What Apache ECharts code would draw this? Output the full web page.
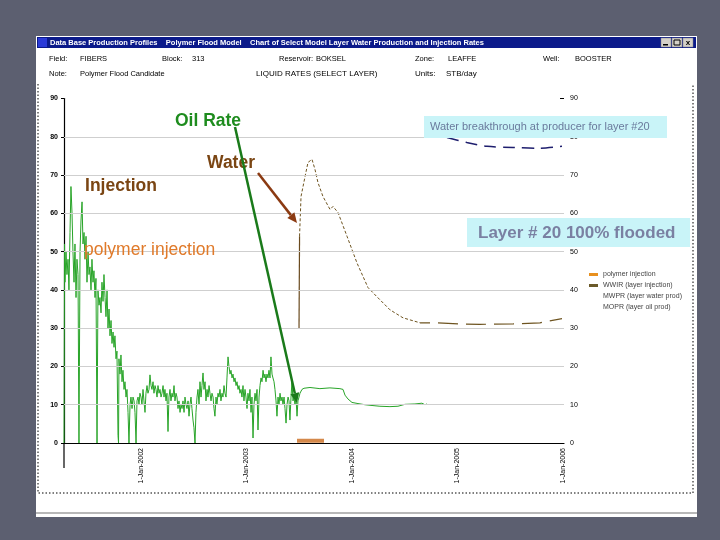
<!DOCTYPE html>
<html><head><meta charset="utf-8">
<script src="https://cdn.jsdelivr.net/npm/echarts@6/dist/echarts.min.js"></script>
<style>html,body{margin:0;padding:0;background:#5c5f70;}#c{width:720px;height:540px;}</style>
</head><body><div id="c"></div>
<script>
// ---- data (decimal years / STB/day) ----
const oilDates = [2001.270,2001.275,2001.279,2001.289,2001.298,2001.308,2001.317,2001.327,2001.336,2001.346,2001.355,2001.365,2001.374,2001.384,2001.393,2001.403,2001.412,2001.422,2001.431,2001.441,2001.450,2001.460,2001.469,2001.479,2001.488,2001.498,2001.507,2001.516,2001.526,2001.535,2001.545,2001.554,2001.564,2001.573,2001.583,2001.592,2001.602,2001.611,2001.621,2001.630,2001.640,2001.649,2001.659,2001.668,2001.678,2001.687,2001.697,2001.706,2001.716,2001.725,2001.735,2001.744,2001.753,2001.763,2001.772,2001.782,2001.787,2001.791,2001.801,2001.810,2001.820,2001.829,2001.839,2001.848,2001.858,2001.867,2001.877,2001.886,2001.896,2001.905,2001.915,2001.924,2001.934,2001.943,2001.953,2001.962,2001.972,2001.981,2001.990,2002.000,2002.009,2002.019,2002.028,2002.038,2002.047,2002.057,2002.066,2002.076,2002.085,2002.095,2002.104,2002.114,2002.123,2002.133,2002.142,2002.152,2002.161,2002.171,2002.180,2002.190,2002.199,2002.209,2002.218,2002.227,2002.237,2002.246,2002.256,2002.265,2002.275,2002.284,2002.294,2002.303,2002.313,2002.322,2002.332,2002.341,2002.351,2002.360,2002.370,2002.379,2002.389,2002.398,2002.408,2002.417,2002.427,2002.436,2002.446,2002.455,2002.464,2002.474,2002.483,2002.493,2002.502,2002.512,2002.521,2002.531,2002.540,2002.550,2002.559,2002.569,2002.578,2002.588,2002.597,2002.607,2002.616,2002.626,2002.635,2002.645,2002.654,2002.664,2002.673,2002.683,2002.692,2002.701,2002.711,2002.720,2002.730,2002.739,2002.749,2002.758,2002.768,2002.777,2002.787,2002.796,2002.806,2002.815,2002.825,2002.834,2002.844,2002.853,2002.863,2002.872,2002.882,2002.891,2002.901,2002.910,2002.920,2002.929,2002.938,2002.948,2002.957,2002.967,2002.976,2002.986,2002.995,2003.005,2003.014,2003.024,2003.033,2003.043,2003.052,2003.062,2003.071,2003.081,2003.090,2003.100,2003.109,2003.119,2003.128,2003.138,2003.147,2003.157,2003.166,2003.175,2003.185,2003.194,2003.204,2003.213,2003.223,2003.232,2003.242,2003.251,2003.261,2003.270,2003.280,2003.289,2003.299,2003.308,2003.318,2003.327,2003.337,2003.346,2003.356,2003.365,2003.375,2003.384,2003.394,2003.403,2003.412,2003.422,2003.431,2003.441,2003.450,2003.460,2003.469,2003.479,2003.488,2003.498,2003.507,2003.526,2003.545,2003.602,2003.696,2003.791,2003.886,2003.915,2003.934,2003.962,2004.000,2004.057,2004.123,2004.190,2004.265,2004.360,2004.436,2004.502,2004.597,2004.663,2004.692,2004.711];
const oilRates = [0,52,42,50,44,48,40,55,67,60,50,42,52,38,48,44,0,50,58,63,52,55,48,54,42,50,44,46,40,48,42,45,38,43,0,40,36,38,34,42,37,44,38,33,40,30,35,28,32,26,29,25,28,22,24,2,0,22,18,23,16,19,14,16,12,14,8,0,10,12,9,12,11,8,0,11,12,10,13,12,10,14,11,8,13,15,13,14,17.8,15,14,16,13,15,14,12,15,13,14,12,13,15,12,14,11,13,3,12,14,11,13,12,15,11,13,12,9,11,8,10,9,11,8,12,10,9,11,7,10,12,9,6,4,0,8,12,14,10,16,12,15,18.3,14,16,11,14,12,15,13,11,13,12,9,7,12,10,13,12,14,11,13,12,15,13,12,17,22.5,20,18,19,17,18,16,17,15,16,14,15,13,14,12,15,11,14,12,9,13,11,14,8,12,1.3,10,13,11,14,3.4,12,15,17,16,19,17,18,16,18,17,19,17,22.5,18,17,16,14,11,7,12,10,13,11,12,10,12,9,5.2,10,12,11,6,12,16,11,12,10,12,7,11,12,13,14,14.3,14.5,14.2,14.4,14.2,14,12.5,11.5,10.6,10.3,10,9.8,9.6,9.5,9.6,10.1,10.2,10.4,10.0,10.2];
const waterDates = [2003.498,2003.503,2003.517,2003.555,2003.583,2003.621,2003.649,2003.678,2003.725,2003.792,2003.820,2003.868,2003.953,2004.048,2004.152,2004.237,2004.360,2004.484,2004.645,2004.787,2005.024,2005.214,2005.527,2005.782,2005.991];
const waterRates = [30,54,64.4,69.6,73.3,74.1,71.5,68,64.4,61,61.8,60.2,54,47,40.6,38.2,34.8,32.7,31.4,31.4,31.1,31,31.1,31.4,32.5];
const prodDates = [2004.901,2005.090,2005.280,2005.527,2005.782,2005.991];
const prodRates = [79.8,78.5,77.5,77.2,77.0,77.5];
const polymerDates = [2003.479,2003.735];
const polymerRates = [0.6,0.6];
const yearTicks = [2002,2003,2004,2005,2006];
const gridValues = [10,20,30,40,50,60,70,80];
const seriesNames = ['polymer injection','WWIR (layer injection)','MWPR (layer water prod)','MOPR (layer oil prod)'];

const zip = (a,b) => a.map((d,i)=>[d,b[i]]);
const FF = '"Liberation Sans", Arial, sans-serif';

const chart = echarts.init(document.getElementById('c'), null, {renderer:'canvas'});

function txt(x,y,text,font,fill,align,z){
  return {type:'text', x:x, y:y, z:z||50, silent:true,
    style:{text:text, font:font, fill:fill||'#000', align:align||'left', verticalAlign:'middle'}};
}
function arrow(x1,y1,x2,y2,color,w,len,half){
  const dx=x2-x1, dy=y2-y1, L=Math.hypot(dx,dy), ux=dx/L, uy=dy/L;
  const bx=x2-ux*len, by=y2-uy*len;
  return [
    {type:'line', z:60, silent:true, shape:{x1:x1,y1:y1,x2:bx,y2:by}, style:{stroke:color,lineWidth:w}},
    {type:'polygon', z:60, silent:true, shape:{points:[[x2,y2],[bx-uy*half,by+ux*half],[bx+uy*half,by-ux*half]]}, style:{fill:color}}
  ];
}
const hdr = '7.5px ' + FF;
const graphics = [
  {type:'rect', z:-100, silent:true, shape:{x:36,y:36,width:661,height:481}, style:{fill:'#ffffff'}},
  {type:'rect', z:-99, silent:true, shape:{x:36,y:512,width:661,height:2}, style:{fill:'#b8b8b8'}},
  {type:'rect', z:-99, silent:true, shape:{x:37,y:37,width:659,height:11}, style:{fill:'#0b1a8a'}},
  {type:'rect', z:-98, silent:true, shape:{x:38,y:38,width:9,height:9}, style:{fill:'#2a3ad8'}},
  txt(50,42.8,'Data Base Production Profiles    Polymer Flood Model    Chart of Select Model Layer Water Production and Injection Rates','bold 7.5px '+FF,'#ffffff'),
  {type:'rect', z:-98, silent:true, shape:{x:661,y:38,width:10,height:9}, style:{fill:'#d4d0c8',stroke:'#808080',lineWidth:0.5}},
  {type:'rect', z:-98, silent:true, shape:{x:672,y:38,width:10,height:9}, style:{fill:'#d4d0c8',stroke:'#808080',lineWidth:0.5}},
  {type:'rect', z:-98, silent:true, shape:{x:683,y:38,width:10,height:9}, style:{fill:'#d4d0c8',stroke:'#808080',lineWidth:0.5}},
  {type:'rect', z:-97, silent:true, shape:{x:663,y:44,width:5,height:1.5}, style:{fill:'#000'}},
  {type:'rect', z:-97, silent:true, shape:{x:674,y:40,width:6,height:5}, style:{fill:'none',stroke:'#000',lineWidth:1}},
  txt(688,42.8,'x','bold 8px '+FF,'#000','center'),
  txt(49,59,'Field:',hdr), txt(80,59,'FIBERS',hdr),
  txt(162,59,'Block:',hdr), txt(192,59,'313',hdr),
  txt(279,59,'Reservoir:',hdr), txt(316,59,'BOKSEL',hdr),
  txt(415,59,'Zone:',hdr), txt(448,59,'LEAFFE',hdr),
  txt(543,59,'Well:',hdr), txt(575,59,'BOOSTER',hdr),
  txt(49,74,'Note:',hdr), txt(80,74,'Polymer Flood Candidate',hdr),
  txt(256,74,'LIQUID RATES (SELECT LAYER)','8px '+FF),
  txt(415,74,'Units:','8px '+FF), txt(446,74,'STB/day','8px '+FF),
  {type:'polyline', z:-90, silent:true, shape:{points:[[38,84],[38,493],[693,493],[693,84]]}, style:{stroke:'#000',lineWidth:1,lineDash:[1.5,2],fill:'none'}},
  {type:'line', z:5, silent:true, shape:{x1:64,y1:443,x2:64,y2:468}, style:{stroke:'#000',lineWidth:1.2}},
  // annotations
  txt(208,121,'Oil Rate','bold 17.5px '+FF,'#1e8c1e','center'),
  txt(231,163,'Water','bold 17.5px '+FF,'#7a4513','center'),
  txt(121,186,'Injection','bold 17.5px '+FF,'#7a4513','center'),
  txt(84,250,'polymer injection','17.5px '+FF,'#e07a2a','left'),
  ...arrow(235,127,297,403,'#1a7a1a',2.5,10,4.5),
  ...arrow(258,173,297,223,'#8b3a12',2.5,10,4.5),
  {type:'rect', z:40, silent:true, shape:{x:424,y:116,width:243,height:22}, style:{fill:'#c9f4f8'}},
  txt(430,127,'Water breakthrough at producer for layer #20','11px '+FF,'#6a7a9c','left'),
  {type:'rect', z:40, silent:true, shape:{x:467,y:218,width:223,height:29}, style:{fill:'#c9f4f8'}},
  txt(478,233,'Layer # 20 100% flooded','bold 17px '+FF,'#7a80a2','left')
];

const option = {
  backgroundColor:'#5c5f70',
  animation:false,
  textStyle:{fontFamily:FF},
  grid:{left:64, right:156, top:98.5, bottom:97, containLabel:false, outerBoundsMode:'none'},
  legend:{
    orient:'vertical', left:584, top:266, itemWidth:9, itemHeight:3, itemGap:4, icon:'rect',
    textStyle:{fontSize:7, color:'#444', fontFamily:FF},
    data:[
      {name:seriesNames[0]},
      {name:seriesNames[1]},
      {name:seriesNames[2], itemStyle:{opacity:0}},
      {name:seriesNames[3], itemStyle:{opacity:0}}
    ],
    selectedMode:false
  },
  xAxis:{
    type:'value', min:2001.27, max:2006.01,
    axisLine:{show:true, lineStyle:{color:'#000', width:1.2}},
    axisTick:{show:false}, splitLine:{show:false},
    axisLabel:{customValues:yearTicks, rotate:90, fontSize:7, color:'#000', margin:5, fontFamily:FF,
      formatter:v => '1-Jan-' + v}
  },
  yAxis:[
    {type:'value', position:'left', min:0, max:90, interval:10,
      axisLine:{show:true, lineStyle:{color:'#000', width:1.2}},
      axisTick:{show:true, length:3, lineStyle:{color:'#000'}},
      axisLabel:{fontSize:7, fontWeight:'bold', color:'#000', margin:6, fontFamily:FF},
      splitLine:{show:false}},
    {type:'value', position:'right', min:0, max:90, interval:10,
      axisLine:{show:false},
      axisTick:{show:true, inside:true, length:4, lineStyle:{color:'#000'}},
      axisLabel:{fontSize:7, color:'#000', margin:6, fontFamily:FF},
      splitLine:{show:false}}
  ],
  series:[
    {name:seriesNames[0], type:'line', z:1, data:zip(polymerDates,polymerRates), showSymbol:false,
      lineStyle:{color:'#d4884a', width:4}, itemStyle:{color:'#e8901e'},
      markLine:{silent:true, symbol:'none', label:{show:false},
        lineStyle:{color:'#cfcfcf', width:1, type:'solid'},
        data:gridValues.map(v=>({yAxis:v}))}},
    {name:'solid jump', type:'line', z:3, data:zip(waterDates.slice(0,2),waterRates.slice(0,2)), showSymbol:false,
      lineStyle:{color:'#6a4a1e', width:1.2}},
    {name:seriesNames[1], type:'line', z:3, data:zip(waterDates.slice(1,19),waterRates.slice(1,19)), showSymbol:false,
      lineStyle:{color:'#6e5420', width:1, type:[3,2]}, itemStyle:{color:'#6b5a2a'}},
    {name:'water tail', type:'line', z:3, data:zip(waterDates.slice(18),waterRates.slice(18)), showSymbol:false,
      lineStyle:{color:'#6e5420', width:1.2, type:[20,8], dashOffset:10}},
    {name:seriesNames[2], type:'line', z:3, data:zip(prodDates,prodRates), showSymbol:false, smooth:0.3,
      lineStyle:{color:'#1e1e6e', width:1.5, type:[12,7]}, itemStyle:{color:'#1e1e6e'}},
    {name:seriesNames[3], type:'line', z:3, data:zip(oilDates,oilRates), showSymbol:false,
      lineStyle:{color:'#28a428', width:1}, itemStyle:{color:'#28a428'}}
  ],
  graphic:{elements:graphics}
};
chart.setOption(option);
</script>
</body></html>
